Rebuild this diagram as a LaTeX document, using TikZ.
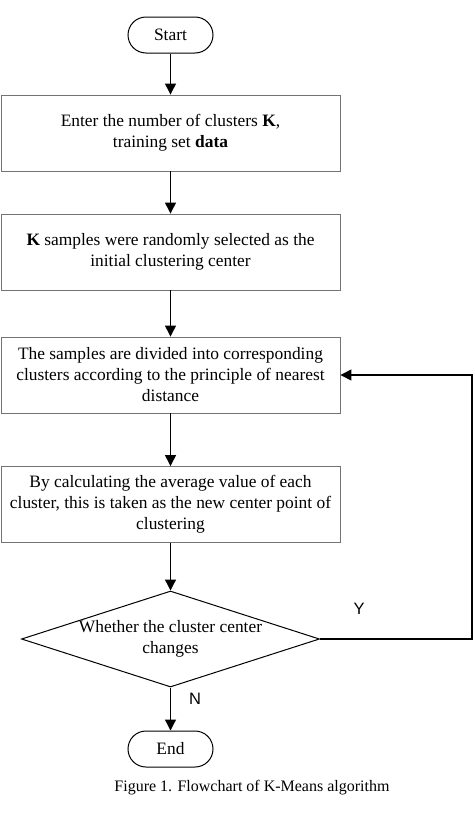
\documentclass[tikz,border=0pt]{standalone}
\usepackage{fontspec}
\setmainfont{Liberation Serif}
\newfontfamily\labelfont{Liberation Sans}
\usetikzlibrary{arrows.meta,shapes.geometric}

\tikzset{
	procbox/.style={draw=black!55, line width=0.9pt, rectangle, minimum width=339, minimum height=76,
		align=center, font=\fontsize{17.4}{21}\selectfont},
	termbox/.style={draw, line width=1pt, rectangle, rounded corners=18, minimum width=85, minimum height=36,
		font=\fontsize{17.4}{21}\selectfont},
	decbox/.style={draw, line width=1pt, diamond, aspect=3.1, inner sep=-2pt, minimum width=298, minimum height=96,
		align=center, font=\fontsize{17.4}{21}\selectfont},
	flowarrow/.style={line width=1.3pt, -{Triangle[width=11pt,length=11pt]}},
	yesno/.style={font=\labelfont\fontsize{16.5}{19}\selectfont}
}

\begin{document}
\begin{tikzpicture}[x=1pt, y=-1pt]
		\useasboundingbox (0,0) rectangle (474,822);

		\node [termbox] (start) at (170.5, 35) {Start};
		\node [procbox] (enter) at (170.5, 133) {Enter the number of clusters \textbf{K},\\ training set \textbf{data}};
		\node [procbox] (init) at (170.5, 252) {\textbf{K} samples were randomly selected as the\\ initial clustering center};
		\node [procbox] (assign) at (170.5, 375) {The samples are divided into corresponding\\ clusters according to the principle of nearest\\ distance};
		\node [procbox] (update) at (170.5, 504.5) {By calculating the average value of each\\ cluster, this is taken as the new center point of\\ clustering};
		\node [decbox] (check) at (170.5, 639) {Whether the cluster center\\ changes};
		\node [termbox] (finish) at (170.5, 749) {End};

		\foreach \a/\b in {start/enter, enter/init, init/assign, assign/update, update/check, check/finish}
			\draw [flowarrow] (\a) -- (\b);

		% loop back when the center moves
		\coordinate (loopbot) at (472, 639);
		\coordinate (looptop) at (472, 375);
		\draw [flowarrow] (check.east) -- (loopbot) -- (looptop) -- (assign.east);

		\node [yesno] (yes) at (359, 609) {Y};
		\node [yesno] (no) at (195, 699) {N};

		\node [font=\fontsize{16}{19}\selectfont] (caption) at (252, 788) {Figure 1. Flowchart of K-Means algorithm};
	\end{tikzpicture}
\end{document}
